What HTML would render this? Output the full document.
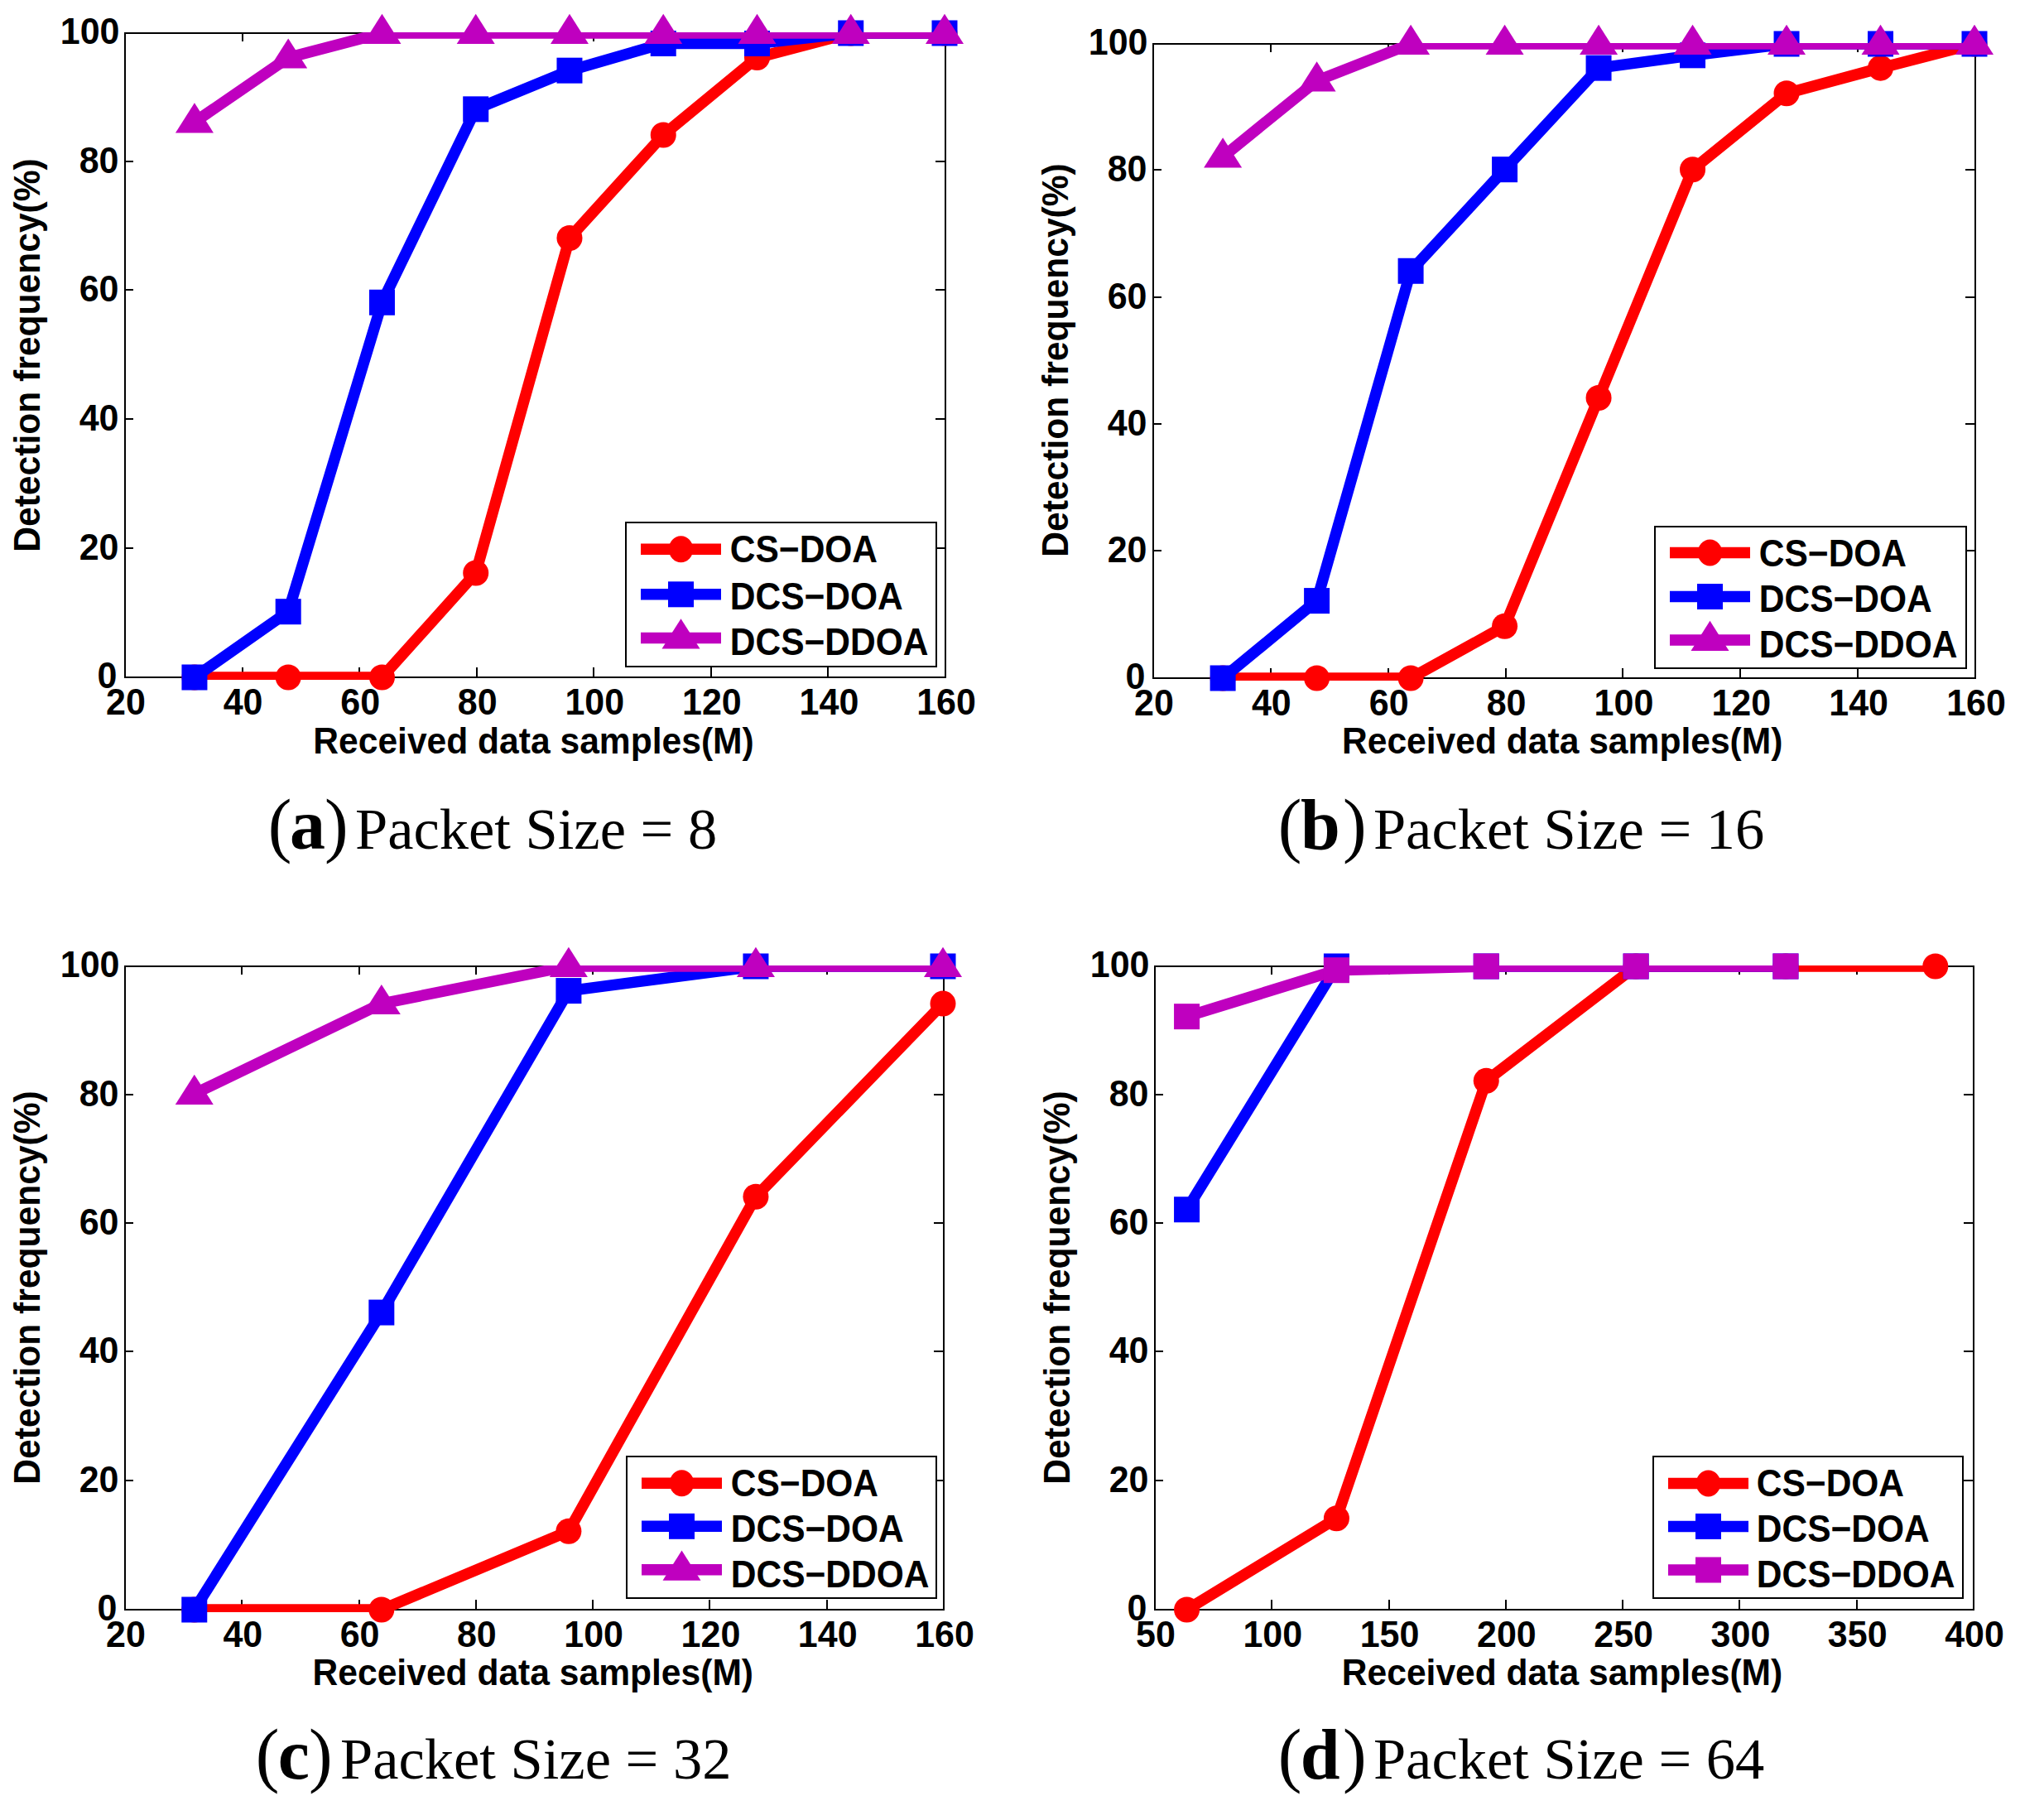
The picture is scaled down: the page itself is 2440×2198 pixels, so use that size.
<!DOCTYPE html>
<html><head><meta charset="utf-8"><title>Detection frequency vs received data samples</title>
<style>
html,body{margin:0;padding:0;background:#fff;}
svg{display:block;}
.t{font-family:'Liberation Sans',Arial,Helvetica,sans-serif;font-weight:bold;fill:#000;}
.c{font-family:'Liberation Serif','Times New Roman',serif;fill:#000;}
</style></head><body>
<svg width="2440" height="2198" viewBox="0 0 2440 2198">
<rect width="2440" height="2198" fill="#fff"/>
<!-- panel (a) -->
<defs><clipPath id="clipa"><rect x="150" y="39" width="993" height="782"/></clipPath></defs>
<g shape-rendering="crispEdges"><rect x="151" y="40" width="991" height="778" fill="none" stroke="#000" stroke-width="2"/><line x1="292.57" y1="818" x2="292.57" y2="806" stroke="#000" stroke-width="2"/><line x1="292.57" y1="40" x2="292.57" y2="50" stroke="#000" stroke-width="2"/><line x1="434.14" y1="818" x2="434.14" y2="806" stroke="#000" stroke-width="2"/><line x1="434.14" y1="40" x2="434.14" y2="50" stroke="#000" stroke-width="2"/><line x1="575.71" y1="818" x2="575.71" y2="806" stroke="#000" stroke-width="2"/><line x1="575.71" y1="40" x2="575.71" y2="50" stroke="#000" stroke-width="2"/><line x1="717.29" y1="818" x2="717.29" y2="806" stroke="#000" stroke-width="2"/><line x1="717.29" y1="40" x2="717.29" y2="50" stroke="#000" stroke-width="2"/><line x1="858.86" y1="818" x2="858.86" y2="806" stroke="#000" stroke-width="2"/><line x1="858.86" y1="40" x2="858.86" y2="50" stroke="#000" stroke-width="2"/><line x1="1000.43" y1="818" x2="1000.43" y2="806" stroke="#000" stroke-width="2"/><line x1="1000.43" y1="40" x2="1000.43" y2="50" stroke="#000" stroke-width="2"/><line x1="151" y1="661.5" x2="161" y2="661.5" stroke="#000" stroke-width="2"/><line x1="1142" y1="661.5" x2="1130" y2="661.5" stroke="#000" stroke-width="2"/><line x1="151" y1="505.9" x2="161" y2="505.9" stroke="#000" stroke-width="2"/><line x1="1142" y1="505.9" x2="1130" y2="505.9" stroke="#000" stroke-width="2"/><line x1="151" y1="350.3" x2="161" y2="350.3" stroke="#000" stroke-width="2"/><line x1="1142" y1="350.3" x2="1130" y2="350.3" stroke="#000" stroke-width="2"/><line x1="151" y1="194.7" x2="161" y2="194.7" stroke="#000" stroke-width="2"/><line x1="1142" y1="194.7" x2="1130" y2="194.7" stroke="#000" stroke-width="2"/></g>
<g class="t" font-size="43"><text transform="translate(141.5,831.2) scale(1,1.035)" text-anchor="end">0</text><text transform="translate(143.5,675.6) scale(1,1.035)" text-anchor="end">20</text><text transform="translate(143.5,520) scale(1,1.035)" text-anchor="end">40</text><text transform="translate(143.5,364.4) scale(1,1.035)" text-anchor="end">60</text><text transform="translate(143.5,208.8) scale(1,1.035)" text-anchor="end">80</text><text transform="translate(144.5,53.2) scale(1,1.035)" text-anchor="end">100</text><text transform="translate(152,863.3) scale(1,1.035)" text-anchor="middle">20</text><text transform="translate(293.57,863.3) scale(1,1.035)" text-anchor="middle">40</text><text transform="translate(435.14,863.3) scale(1,1.035)" text-anchor="middle">60</text><text transform="translate(576.71,863.3) scale(1,1.035)" text-anchor="middle">80</text><text transform="translate(718.29,863.3) scale(1,1.035)" text-anchor="middle">100</text><text transform="translate(859.86,863.3) scale(1,1.035)" text-anchor="middle">120</text><text transform="translate(1001.43,863.3) scale(1,1.035)" text-anchor="middle">140</text><text transform="translate(1143,863.3) scale(1,1.035)" text-anchor="middle">160</text></g>
<text class="t" font-size="42.6" transform="translate(644.5,909.9) scale(1,1.055)" text-anchor="middle">Received data samples(M)</text>
<text class="t" font-size="42.6" transform="translate(48.4,429) rotate(-90) scale(1,1.055)" text-anchor="middle">Detection frequency(%)</text>
<polyline points="234.94,818 348.2,818 461.46,818 574.71,692.02 687.97,287.46 801.23,162.98 914.49,69.62 1027.74,40 1141,40" fill="none" stroke="#ff0000" stroke-width="13.5" stroke-linejoin="round" stroke-linecap="butt" clip-path="url(#clipa)"/>
<ellipse cx="234.94" cy="818" rx="15.5" ry="15.5" fill="#ff0000"/><ellipse cx="348.2" cy="818" rx="15.5" ry="15.5" fill="#ff0000"/><ellipse cx="461.46" cy="818" rx="15.5" ry="15.5" fill="#ff0000"/><ellipse cx="574.71" cy="692.02" rx="15.5" ry="15.5" fill="#ff0000"/><ellipse cx="687.97" cy="287.46" rx="15.5" ry="15.5" fill="#ff0000"/><ellipse cx="801.23" cy="162.98" rx="15.5" ry="15.5" fill="#ff0000"/><ellipse cx="914.49" cy="69.62" rx="15.5" ry="15.5" fill="#ff0000"/><ellipse cx="1027.74" cy="40" rx="15.5" ry="15.5" fill="#ff0000"/><ellipse cx="1141" cy="40" rx="15.5" ry="15.5" fill="#ff0000"/>
<polyline points="234.94,818 348.2,738.7 461.46,365.26 574.71,131.86 687.97,85.18 801.23,52.5 914.49,52.5 1027.74,40 1141,40" fill="none" stroke="#0000ff" stroke-width="13.5" stroke-linejoin="round" stroke-linecap="butt" clip-path="url(#clipa)"/>
<rect x="219.44" y="802.5" width="31" height="31" fill="#0000ff"/><rect x="332.7" y="723.2" width="31" height="31" fill="#0000ff"/><rect x="445.96" y="349.76" width="31" height="31" fill="#0000ff"/><rect x="559.21" y="116.36" width="31" height="31" fill="#0000ff"/><rect x="672.47" y="69.68" width="31" height="31" fill="#0000ff"/><rect x="785.73" y="37" width="31" height="31" fill="#0000ff"/><rect x="898.99" y="37" width="31" height="31" fill="#0000ff"/><rect x="1012.24" y="24.5" width="31" height="31" fill="#0000ff"/><rect x="1125.5" y="24.5" width="31" height="31" fill="#0000ff"/>
<polyline points="234.94,147.42 348.2,69.62 461.46,40 574.71,40 687.97,40 801.23,40 914.49,40 1027.74,40 1141,40" fill="none" stroke="#bf00bf" stroke-width="13.5" stroke-linejoin="round" stroke-linecap="butt" clip-path="url(#clipa)"/>
<polygon points="234.94,124.22 257.94,160.42 211.94,160.42" fill="#bf00bf"/><polygon points="348.2,46.42 371.2,82.62 325.2,82.62" fill="#bf00bf"/><polygon points="461.46,16.8 484.46,53 438.46,53" fill="#bf00bf"/><polygon points="574.71,16.8 597.71,53 551.71,53" fill="#bf00bf"/><polygon points="687.97,16.8 710.97,53 664.97,53" fill="#bf00bf"/><polygon points="801.23,16.8 824.23,53 778.23,53" fill="#bf00bf"/><polygon points="914.49,16.8 937.49,53 891.49,53" fill="#bf00bf"/><polygon points="1027.74,16.8 1050.74,53 1004.74,53" fill="#bf00bf"/><polygon points="1141,16.8 1164,53 1118,53" fill="#bf00bf"/>
<rect x="756" y="631" width="375" height="174" fill="#fff" stroke="#000" stroke-width="2" shape-rendering="crispEdges"/>
<line x1="774" y1="663.2" x2="871" y2="663.2" stroke="#ff0000" stroke-width="13.5"/>
<ellipse cx="822.5" cy="663.2" rx="14.75" ry="16" fill="#ff0000"/>
<text class="t" font-size="42.5" transform="translate(881.8,678.8) scale(1,1.07)">CS−DOA</text>
<line x1="774" y1="717.8" x2="871" y2="717.8" stroke="#0000ff" stroke-width="13.5"/>
<rect x="807" y="702.3" width="31" height="31" fill="#0000ff"/>
<text class="t" font-size="42.5" transform="translate(881.8,735.8) scale(1,1.07)">DCS−DOA</text>
<line x1="774" y1="770.4" x2="871" y2="770.4" stroke="#bf00bf" stroke-width="13.5"/>
<polygon points="822.5,747.2 845.5,783.4 799.5,783.4" fill="#bf00bf"/>
<text class="t" font-size="42.5" transform="translate(881.8,790.7) scale(1,1.07)">DCS−DDOA</text>
<text class="c" font-size="86" y="1024.8"><tspan x="323.7">(</tspan><tspan x="350" font-weight="bold">a</tspan><tspan x="392">)</tspan></text>
<text class="c" font-size="70.5" x="429" y="1024.8">Packet Size = 8</text>
<!-- panel (b) -->
<defs><clipPath id="clipb"><rect x="1392" y="52" width="995" height="770"/></clipPath></defs>
<g shape-rendering="crispEdges"><rect x="1393" y="53" width="993" height="766" fill="none" stroke="#000" stroke-width="2"/><line x1="1534.86" y1="819" x2="1534.86" y2="807" stroke="#000" stroke-width="2"/><line x1="1534.86" y1="53" x2="1534.86" y2="63" stroke="#000" stroke-width="2"/><line x1="1676.71" y1="819" x2="1676.71" y2="807" stroke="#000" stroke-width="2"/><line x1="1676.71" y1="53" x2="1676.71" y2="63" stroke="#000" stroke-width="2"/><line x1="1818.57" y1="819" x2="1818.57" y2="807" stroke="#000" stroke-width="2"/><line x1="1818.57" y1="53" x2="1818.57" y2="63" stroke="#000" stroke-width="2"/><line x1="1960.43" y1="819" x2="1960.43" y2="807" stroke="#000" stroke-width="2"/><line x1="1960.43" y1="53" x2="1960.43" y2="63" stroke="#000" stroke-width="2"/><line x1="2102.29" y1="819" x2="2102.29" y2="807" stroke="#000" stroke-width="2"/><line x1="2102.29" y1="53" x2="2102.29" y2="63" stroke="#000" stroke-width="2"/><line x1="2244.14" y1="819" x2="2244.14" y2="807" stroke="#000" stroke-width="2"/><line x1="2244.14" y1="53" x2="2244.14" y2="63" stroke="#000" stroke-width="2"/><line x1="1393" y1="664.9" x2="1403" y2="664.9" stroke="#000" stroke-width="2"/><line x1="2386" y1="664.9" x2="2374" y2="664.9" stroke="#000" stroke-width="2"/><line x1="1393" y1="511.7" x2="1403" y2="511.7" stroke="#000" stroke-width="2"/><line x1="2386" y1="511.7" x2="2374" y2="511.7" stroke="#000" stroke-width="2"/><line x1="1393" y1="358.5" x2="1403" y2="358.5" stroke="#000" stroke-width="2"/><line x1="2386" y1="358.5" x2="2374" y2="358.5" stroke="#000" stroke-width="2"/><line x1="1393" y1="205.3" x2="1403" y2="205.3" stroke="#000" stroke-width="2"/><line x1="2386" y1="205.3" x2="2374" y2="205.3" stroke="#000" stroke-width="2"/></g>
<g class="t" font-size="43"><text transform="translate(1383.5,832.2) scale(1,1.035)" text-anchor="end">0</text><text transform="translate(1385.5,679) scale(1,1.035)" text-anchor="end">20</text><text transform="translate(1385.5,525.8) scale(1,1.035)" text-anchor="end">40</text><text transform="translate(1385.5,372.6) scale(1,1.035)" text-anchor="end">60</text><text transform="translate(1385.5,219.4) scale(1,1.035)" text-anchor="end">80</text><text transform="translate(1386.5,66.2) scale(1,1.035)" text-anchor="end">100</text><text transform="translate(1394,864.3) scale(1,1.035)" text-anchor="middle">20</text><text transform="translate(1535.86,864.3) scale(1,1.035)" text-anchor="middle">40</text><text transform="translate(1677.71,864.3) scale(1,1.035)" text-anchor="middle">60</text><text transform="translate(1819.57,864.3) scale(1,1.035)" text-anchor="middle">80</text><text transform="translate(1961.43,864.3) scale(1,1.035)" text-anchor="middle">100</text><text transform="translate(2103.29,864.3) scale(1,1.035)" text-anchor="middle">120</text><text transform="translate(2245.14,864.3) scale(1,1.035)" text-anchor="middle">140</text><text transform="translate(2387,864.3) scale(1,1.035)" text-anchor="middle">160</text></g>
<text class="t" font-size="42.6" transform="translate(1887.2,909.9) scale(1,1.055)" text-anchor="middle">Received data samples(M)</text>
<text class="t" font-size="42.6" transform="translate(1290.4,435) rotate(-90) scale(1,1.055)" text-anchor="middle">Detection frequency(%)</text>
<polyline points="1477.11,819 1590.6,819 1704.09,819 1817.57,756.22 1931.06,480.46 2044.54,204.7 2158.03,112.78 2271.51,82.14 2385,53" fill="none" stroke="#ff0000" stroke-width="13.5" stroke-linejoin="round" stroke-linecap="butt" clip-path="url(#clipb)"/>
<ellipse cx="1477.11" cy="819" rx="15.5" ry="15.5" fill="#ff0000"/><ellipse cx="1590.6" cy="819" rx="15.5" ry="15.5" fill="#ff0000"/><ellipse cx="1704.09" cy="819" rx="15.5" ry="15.5" fill="#ff0000"/><ellipse cx="1817.57" cy="756.22" rx="15.5" ry="15.5" fill="#ff0000"/><ellipse cx="1931.06" cy="480.46" rx="15.5" ry="15.5" fill="#ff0000"/><ellipse cx="2044.54" cy="204.7" rx="15.5" ry="15.5" fill="#ff0000"/><ellipse cx="2158.03" cy="112.78" rx="15.5" ry="15.5" fill="#ff0000"/><ellipse cx="2271.51" cy="82.14" rx="15.5" ry="15.5" fill="#ff0000"/><ellipse cx="2385" cy="53" rx="15.5" ry="15.5" fill="#ff0000"/>
<polyline points="1477.11,819 1590.6,725.58 1704.09,327.26 1817.57,204.7 1931.06,82.14 2044.54,66.82 2158.03,53 2271.51,53 2385,53" fill="none" stroke="#0000ff" stroke-width="13.5" stroke-linejoin="round" stroke-linecap="butt" clip-path="url(#clipb)"/>
<rect x="1461.61" y="803.5" width="31" height="31" fill="#0000ff"/><rect x="1575.1" y="710.08" width="31" height="31" fill="#0000ff"/><rect x="1688.59" y="311.76" width="31" height="31" fill="#0000ff"/><rect x="1802.07" y="189.2" width="31" height="31" fill="#0000ff"/><rect x="1915.56" y="66.64" width="31" height="31" fill="#0000ff"/><rect x="2029.04" y="51.32" width="31" height="31" fill="#0000ff"/><rect x="2142.53" y="37.5" width="31" height="31" fill="#0000ff"/><rect x="2256.01" y="37.5" width="31" height="31" fill="#0000ff"/><rect x="2369.5" y="37.5" width="31" height="31" fill="#0000ff"/>
<polyline points="1477.11,189.38 1590.6,97.46 1704.09,53 1817.57,53 1931.06,53 2044.54,53 2158.03,53 2271.51,53 2385,53" fill="none" stroke="#bf00bf" stroke-width="13.5" stroke-linejoin="round" stroke-linecap="butt" clip-path="url(#clipb)"/>
<polygon points="1477.11,166.18 1500.11,202.38 1454.11,202.38" fill="#bf00bf"/><polygon points="1590.6,74.26 1613.6,110.46 1567.6,110.46" fill="#bf00bf"/><polygon points="1704.09,29.8 1727.09,66 1681.09,66" fill="#bf00bf"/><polygon points="1817.57,29.8 1840.57,66 1794.57,66" fill="#bf00bf"/><polygon points="1931.06,29.8 1954.06,66 1908.06,66" fill="#bf00bf"/><polygon points="2044.54,29.8 2067.54,66 2021.54,66" fill="#bf00bf"/><polygon points="2158.03,29.8 2181.03,66 2135.03,66" fill="#bf00bf"/><polygon points="2271.51,29.8 2294.51,66 2248.51,66" fill="#bf00bf"/><polygon points="2385,29.8 2408,66 2362,66" fill="#bf00bf"/>
<rect x="1999" y="636" width="376" height="171" fill="#fff" stroke="#000" stroke-width="2" shape-rendering="crispEdges"/>
<line x1="2017" y1="667.5" x2="2114" y2="667.5" stroke="#ff0000" stroke-width="13.5"/>
<ellipse cx="2065.5" cy="667.5" rx="14.75" ry="16" fill="#ff0000"/>
<text class="t" font-size="42.5" transform="translate(2124.8,683.8) scale(1,1.07)">CS−DOA</text>
<line x1="2017" y1="720.5" x2="2114" y2="720.5" stroke="#0000ff" stroke-width="13.5"/>
<rect x="2050" y="705" width="31" height="31" fill="#0000ff"/>
<text class="t" font-size="42.5" transform="translate(2124.8,739.1) scale(1,1.07)">DCS−DOA</text>
<line x1="2017" y1="773" x2="2114" y2="773" stroke="#bf00bf" stroke-width="13.5"/>
<polygon points="2065.5,749.8 2088.5,786 2042.5,786" fill="#bf00bf"/>
<text class="t" font-size="42.5" transform="translate(2124.8,793.6) scale(1,1.07)">DCS−DDOA</text>
<text class="c" font-size="86" y="1025"><tspan x="1543.8">(</tspan><tspan x="1570.9" font-weight="bold">b</tspan><tspan x="1621.9">)</tspan></text>
<text class="c" font-size="70.5" x="1658.9" y="1025">Packet Size = 16</text>
<!-- panel (c) -->
<defs><clipPath id="clipc"><rect x="150" y="1166" width="991" height="781"/></clipPath></defs>
<g shape-rendering="crispEdges"><rect x="151" y="1167" width="989" height="777" fill="none" stroke="#000" stroke-width="2"/><line x1="292.29" y1="1944" x2="292.29" y2="1932" stroke="#000" stroke-width="2"/><line x1="292.29" y1="1167" x2="292.29" y2="1177" stroke="#000" stroke-width="2"/><line x1="433.57" y1="1944" x2="433.57" y2="1932" stroke="#000" stroke-width="2"/><line x1="433.57" y1="1167" x2="433.57" y2="1177" stroke="#000" stroke-width="2"/><line x1="574.86" y1="1944" x2="574.86" y2="1932" stroke="#000" stroke-width="2"/><line x1="574.86" y1="1167" x2="574.86" y2="1177" stroke="#000" stroke-width="2"/><line x1="716.14" y1="1944" x2="716.14" y2="1932" stroke="#000" stroke-width="2"/><line x1="716.14" y1="1167" x2="716.14" y2="1177" stroke="#000" stroke-width="2"/><line x1="857.43" y1="1944" x2="857.43" y2="1932" stroke="#000" stroke-width="2"/><line x1="857.43" y1="1167" x2="857.43" y2="1177" stroke="#000" stroke-width="2"/><line x1="998.71" y1="1944" x2="998.71" y2="1932" stroke="#000" stroke-width="2"/><line x1="998.71" y1="1167" x2="998.71" y2="1177" stroke="#000" stroke-width="2"/><line x1="151" y1="1787.7" x2="161" y2="1787.7" stroke="#000" stroke-width="2"/><line x1="1140" y1="1787.7" x2="1128" y2="1787.7" stroke="#000" stroke-width="2"/><line x1="151" y1="1632.3" x2="161" y2="1632.3" stroke="#000" stroke-width="2"/><line x1="1140" y1="1632.3" x2="1128" y2="1632.3" stroke="#000" stroke-width="2"/><line x1="151" y1="1476.9" x2="161" y2="1476.9" stroke="#000" stroke-width="2"/><line x1="1140" y1="1476.9" x2="1128" y2="1476.9" stroke="#000" stroke-width="2"/><line x1="151" y1="1321.5" x2="161" y2="1321.5" stroke="#000" stroke-width="2"/><line x1="1140" y1="1321.5" x2="1128" y2="1321.5" stroke="#000" stroke-width="2"/></g>
<g class="t" font-size="43"><text transform="translate(141.5,1957.2) scale(1,1.035)" text-anchor="end">0</text><text transform="translate(143.5,1801.8) scale(1,1.035)" text-anchor="end">20</text><text transform="translate(143.5,1646.4) scale(1,1.035)" text-anchor="end">40</text><text transform="translate(143.5,1491) scale(1,1.035)" text-anchor="end">60</text><text transform="translate(143.5,1335.6) scale(1,1.035)" text-anchor="end">80</text><text transform="translate(144.5,1180.2) scale(1,1.035)" text-anchor="end">100</text><text transform="translate(152,1989.3) scale(1,1.035)" text-anchor="middle">20</text><text transform="translate(293.29,1989.3) scale(1,1.035)" text-anchor="middle">40</text><text transform="translate(434.57,1989.3) scale(1,1.035)" text-anchor="middle">60</text><text transform="translate(575.86,1989.3) scale(1,1.035)" text-anchor="middle">80</text><text transform="translate(717.14,1989.3) scale(1,1.035)" text-anchor="middle">100</text><text transform="translate(858.43,1989.3) scale(1,1.035)" text-anchor="middle">120</text><text transform="translate(999.71,1989.3) scale(1,1.035)" text-anchor="middle">140</text><text transform="translate(1141,1989.3) scale(1,1.035)" text-anchor="middle">160</text></g>
<text class="t" font-size="42.6" transform="translate(643.8,2034.6) scale(1,1.055)" text-anchor="middle">Received data samples(M)</text>
<text class="t" font-size="42.6" transform="translate(48.4,1555) rotate(-90) scale(1,1.055)" text-anchor="middle">Detection frequency(%)</text>
<polyline points="234.77,1944 460.83,1944 686.89,1849.26 912.94,1445.22 1139,1212.12" fill="none" stroke="#ff0000" stroke-width="13.5" stroke-linejoin="round" stroke-linecap="butt" clip-path="url(#clipc)"/>
<ellipse cx="234.77" cy="1944" rx="15.5" ry="15.5" fill="#ff0000"/><ellipse cx="460.83" cy="1944" rx="15.5" ry="15.5" fill="#ff0000"/><ellipse cx="686.89" cy="1849.26" rx="15.5" ry="15.5" fill="#ff0000"/><ellipse cx="912.94" cy="1445.22" rx="15.5" ry="15.5" fill="#ff0000"/><ellipse cx="1139" cy="1212.12" rx="15.5" ry="15.5" fill="#ff0000"/>
<polyline points="234.77,1944 460.83,1585.08 686.89,1196.58 912.94,1167 1139,1167" fill="none" stroke="#0000ff" stroke-width="13.5" stroke-linejoin="round" stroke-linecap="butt" clip-path="url(#clipc)"/>
<rect x="219.27" y="1928.5" width="31" height="31" fill="#0000ff"/><rect x="445.33" y="1569.58" width="31" height="31" fill="#0000ff"/><rect x="671.39" y="1181.08" width="31" height="31" fill="#0000ff"/><rect x="897.44" y="1151.5" width="31" height="31" fill="#0000ff"/><rect x="1123.5" y="1151.5" width="31" height="31" fill="#0000ff"/>
<polyline points="234.77,1320.9 460.83,1212.12 686.89,1167 912.94,1167 1139,1167" fill="none" stroke="#bf00bf" stroke-width="13.5" stroke-linejoin="round" stroke-linecap="butt" clip-path="url(#clipc)"/>
<polygon points="234.77,1297.7 257.77,1333.9 211.77,1333.9" fill="#bf00bf"/><polygon points="460.83,1188.92 483.83,1225.12 437.83,1225.12" fill="#bf00bf"/><polygon points="686.89,1143.8 709.89,1180 663.89,1180" fill="#bf00bf"/><polygon points="912.94,1143.8 935.94,1180 889.94,1180" fill="#bf00bf"/><polygon points="1139,1143.8 1162,1180 1116,1180" fill="#bf00bf"/>
<rect x="757" y="1759" width="374" height="171" fill="#fff" stroke="#000" stroke-width="2" shape-rendering="crispEdges"/>
<line x1="775" y1="1791.3" x2="872" y2="1791.3" stroke="#ff0000" stroke-width="13.5"/>
<ellipse cx="823.5" cy="1791.3" rx="14.75" ry="16" fill="#ff0000"/>
<text class="t" font-size="42.5" transform="translate(882.8,1807) scale(1,1.07)">CS−DOA</text>
<line x1="775" y1="1843.3" x2="872" y2="1843.3" stroke="#0000ff" stroke-width="13.5"/>
<rect x="808" y="1827.8" width="31" height="31" fill="#0000ff"/>
<text class="t" font-size="42.5" transform="translate(882.8,1861.6) scale(1,1.07)">DCS−DOA</text>
<line x1="775" y1="1895.8" x2="872" y2="1895.8" stroke="#bf00bf" stroke-width="13.5"/>
<polygon points="823.5,1872.6 846.5,1908.8 800.5,1908.8" fill="#bf00bf"/>
<text class="t" font-size="42.5" transform="translate(882.8,1916.7) scale(1,1.07)">DCS−DDOA</text>
<text class="c" font-size="86" y="2147.6"><tspan x="308.8">(</tspan><tspan x="335.8" font-weight="bold">c</tspan><tspan x="372.9">)</tspan></text>
<text class="c" font-size="70.5" x="411" y="2147.6">Packet Size = 32</text>
<!-- panel (d) -->
<defs><clipPath id="clipd"><rect x="1394" y="1166" width="991" height="781"/></clipPath></defs>
<g shape-rendering="crispEdges"><rect x="1395" y="1167" width="989" height="777" fill="none" stroke="#000" stroke-width="2"/><line x1="1536.29" y1="1944" x2="1536.29" y2="1932" stroke="#000" stroke-width="2"/><line x1="1536.29" y1="1167" x2="1536.29" y2="1177" stroke="#000" stroke-width="2"/><line x1="1677.57" y1="1944" x2="1677.57" y2="1932" stroke="#000" stroke-width="2"/><line x1="1677.57" y1="1167" x2="1677.57" y2="1177" stroke="#000" stroke-width="2"/><line x1="1818.86" y1="1944" x2="1818.86" y2="1932" stroke="#000" stroke-width="2"/><line x1="1818.86" y1="1167" x2="1818.86" y2="1177" stroke="#000" stroke-width="2"/><line x1="1960.14" y1="1944" x2="1960.14" y2="1932" stroke="#000" stroke-width="2"/><line x1="1960.14" y1="1167" x2="1960.14" y2="1177" stroke="#000" stroke-width="2"/><line x1="2101.43" y1="1944" x2="2101.43" y2="1932" stroke="#000" stroke-width="2"/><line x1="2101.43" y1="1167" x2="2101.43" y2="1177" stroke="#000" stroke-width="2"/><line x1="2242.71" y1="1944" x2="2242.71" y2="1932" stroke="#000" stroke-width="2"/><line x1="2242.71" y1="1167" x2="2242.71" y2="1177" stroke="#000" stroke-width="2"/><line x1="1395" y1="1787.7" x2="1405" y2="1787.7" stroke="#000" stroke-width="2"/><line x1="2384" y1="1787.7" x2="2372" y2="1787.7" stroke="#000" stroke-width="2"/><line x1="1395" y1="1632.3" x2="1405" y2="1632.3" stroke="#000" stroke-width="2"/><line x1="2384" y1="1632.3" x2="2372" y2="1632.3" stroke="#000" stroke-width="2"/><line x1="1395" y1="1476.9" x2="1405" y2="1476.9" stroke="#000" stroke-width="2"/><line x1="2384" y1="1476.9" x2="2372" y2="1476.9" stroke="#000" stroke-width="2"/><line x1="1395" y1="1321.5" x2="1405" y2="1321.5" stroke="#000" stroke-width="2"/><line x1="2384" y1="1321.5" x2="2372" y2="1321.5" stroke="#000" stroke-width="2"/></g>
<g class="t" font-size="43"><text transform="translate(1385.5,1957.2) scale(1,1.035)" text-anchor="end">0</text><text transform="translate(1387.5,1801.8) scale(1,1.035)" text-anchor="end">20</text><text transform="translate(1387.5,1646.4) scale(1,1.035)" text-anchor="end">40</text><text transform="translate(1387.5,1491) scale(1,1.035)" text-anchor="end">60</text><text transform="translate(1387.5,1335.6) scale(1,1.035)" text-anchor="end">80</text><text transform="translate(1388.5,1180.2) scale(1,1.035)" text-anchor="end">100</text><text transform="translate(1396,1989.3) scale(1,1.035)" text-anchor="middle">50</text><text transform="translate(1537.29,1989.3) scale(1,1.035)" text-anchor="middle">100</text><text transform="translate(1678.57,1989.3) scale(1,1.035)" text-anchor="middle">150</text><text transform="translate(1819.86,1989.3) scale(1,1.035)" text-anchor="middle">200</text><text transform="translate(1961.14,1989.3) scale(1,1.035)" text-anchor="middle">250</text><text transform="translate(2102.43,1989.3) scale(1,1.035)" text-anchor="middle">300</text><text transform="translate(2243.71,1989.3) scale(1,1.035)" text-anchor="middle">350</text><text transform="translate(2385,1989.3) scale(1,1.035)" text-anchor="middle">400</text></g>
<text class="t" font-size="42.6" transform="translate(1887,2034.8) scale(1,1.055)" text-anchor="middle">Received data samples(M)</text>
<text class="t" font-size="42.6" transform="translate(1292.4,1555) rotate(-90) scale(1,1.055)" text-anchor="middle">Detection frequency(%)</text>
<polyline points="1433.56,1944 1614.41,1833.72 1795.25,1305.36 1976.1,1167 2156.94,1167 2337.79,1167" fill="none" stroke="#ff0000" stroke-width="13.5" stroke-linejoin="round" stroke-linecap="butt" clip-path="url(#clipd)"/>
<ellipse cx="1433.56" cy="1944" rx="15.5" ry="15.5" fill="#ff0000"/><ellipse cx="1614.41" cy="1833.72" rx="15.5" ry="15.5" fill="#ff0000"/><ellipse cx="1795.25" cy="1305.36" rx="15.5" ry="15.5" fill="#ff0000"/><ellipse cx="1976.1" cy="1167" rx="15.5" ry="15.5" fill="#ff0000"/><ellipse cx="2156.94" cy="1167" rx="15.5" ry="15.5" fill="#ff0000"/><ellipse cx="2337.79" cy="1167" rx="15.5" ry="15.5" fill="#ff0000"/>
<polyline points="1433.56,1460.76 1614.41,1167 1795.25,1167 1976.1,1167 2156.94,1167" fill="none" stroke="#0000ff" stroke-width="13.5" stroke-linejoin="round" stroke-linecap="butt" clip-path="url(#clipd)"/>
<rect x="1418.06" y="1445.26" width="31" height="31" fill="#0000ff"/><rect x="1598.91" y="1151.5" width="31" height="31" fill="#0000ff"/><rect x="1779.75" y="1151.5" width="31" height="31" fill="#0000ff"/><rect x="1960.6" y="1151.5" width="31" height="31" fill="#0000ff"/><rect x="2141.44" y="1151.5" width="31" height="31" fill="#0000ff"/>
<polyline points="1433.56,1227.66 1614.41,1171.72 1795.25,1167 1976.1,1167 2156.94,1167" fill="none" stroke="#bf00bf" stroke-width="13.5" stroke-linejoin="round" stroke-linecap="butt" clip-path="url(#clipd)"/>
<rect x="1418.06" y="1212.16" width="31" height="31" fill="#bf00bf"/><rect x="1598.91" y="1156.22" width="31" height="31" fill="#bf00bf"/><rect x="1779.75" y="1151.5" width="31" height="31" fill="#bf00bf"/><rect x="1960.6" y="1151.5" width="31" height="31" fill="#bf00bf"/><rect x="2141.44" y="1151.5" width="31" height="31" fill="#bf00bf"/>
<rect x="1997" y="1759" width="374" height="171" fill="#fff" stroke="#000" stroke-width="2" shape-rendering="crispEdges"/>
<line x1="2015" y1="1791.5" x2="2112" y2="1791.5" stroke="#ff0000" stroke-width="13.5"/>
<ellipse cx="2063.5" cy="1791.5" rx="14.75" ry="16" fill="#ff0000"/>
<text class="t" font-size="42.5" transform="translate(2121.8,1807) scale(1,1.07)">CS−DOA</text>
<line x1="2015" y1="1843.4" x2="2112" y2="1843.4" stroke="#0000ff" stroke-width="13.5"/>
<rect x="2048" y="1827.9" width="31" height="31" fill="#0000ff"/>
<text class="t" font-size="42.5" transform="translate(2121.8,1861.6) scale(1,1.07)">DCS−DOA</text>
<line x1="2015" y1="1896" x2="2112" y2="1896" stroke="#bf00bf" stroke-width="13.5"/>
<rect x="2048" y="1880.5" width="31" height="31" fill="#bf00bf"/>
<text class="t" font-size="42.5" transform="translate(2121.8,1916.7) scale(1,1.07)">DCS−DDOA</text>
<text class="c" font-size="86" y="2148"><tspan x="1543.8">(</tspan><tspan x="1570.7" font-weight="bold">d</tspan><tspan x="1621.9">)</tspan></text>
<text class="c" font-size="70.5" x="1658.9" y="2148">Packet Size = 64</text>
</svg>
</body></html>
